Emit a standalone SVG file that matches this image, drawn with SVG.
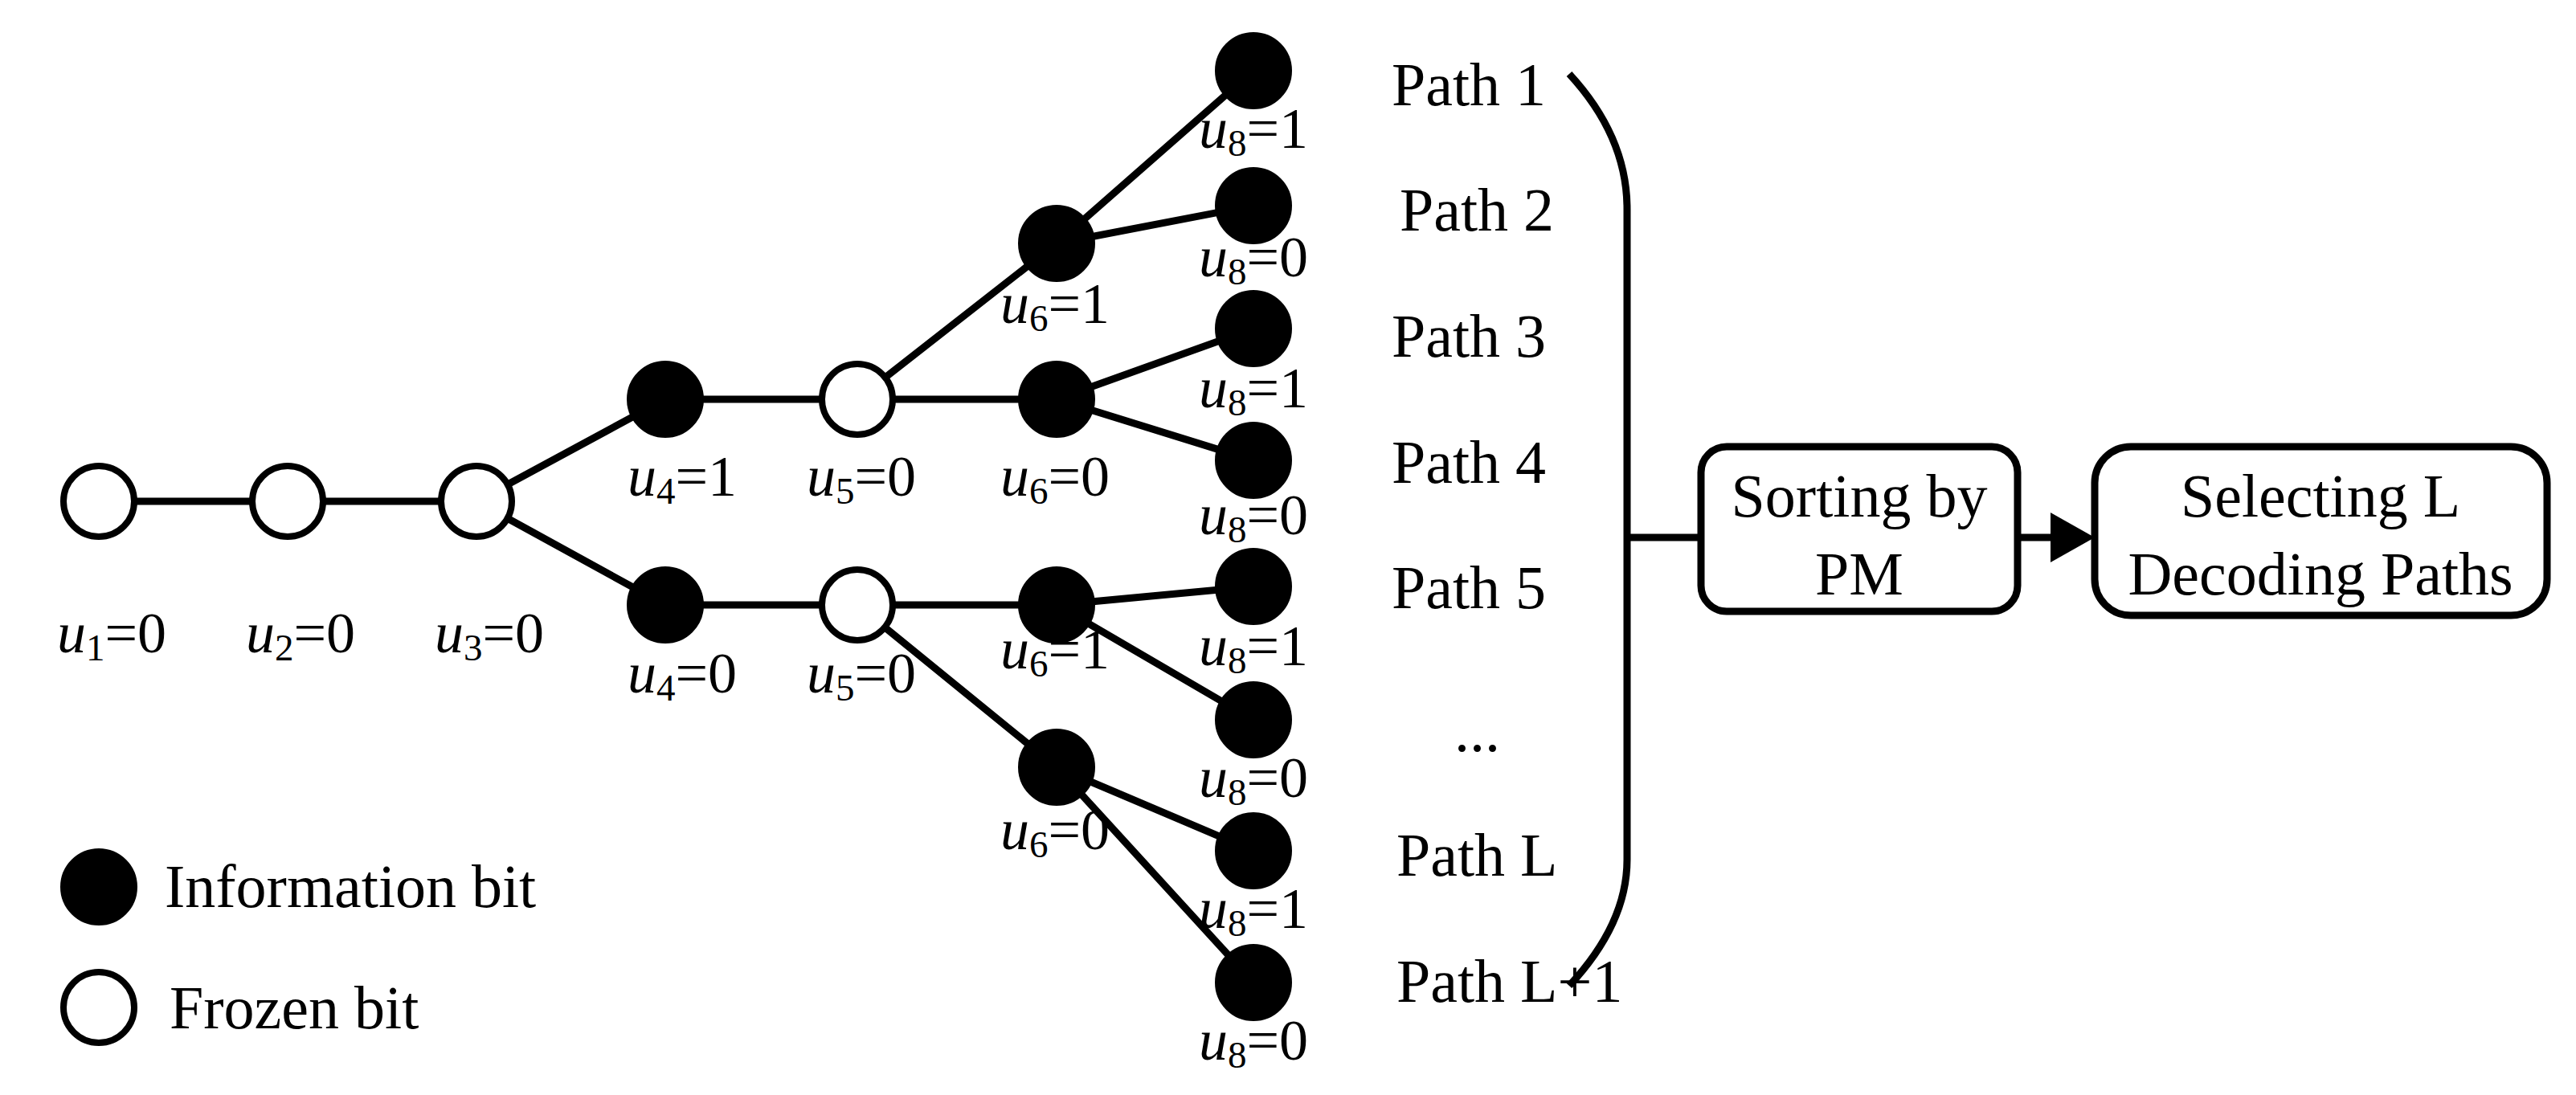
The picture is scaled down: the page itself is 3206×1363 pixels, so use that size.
<svg xmlns="http://www.w3.org/2000/svg" width="3206" height="1363" viewBox="0 0 3206 1363">
<style>
.e{stroke:#000;stroke-width:9;fill:none}
.i{fill:#000;stroke:#000;stroke-width:8}
.f{fill:#fff;stroke:#000;stroke-width:8}
text{font-family:"Liberation Serif","Times New Roman",serif;fill:#000}
.l{font-size:72px;text-anchor:middle}
.l tspan.v{font-style:italic}
.p{font-size:76px}
.b{font-size:76px;text-anchor:middle}
</style>
<defs><marker id="ar" markerWidth="10" markerHeight="10" refX="8" refY="5" orient="auto" markerUnits="userSpaceOnUse" viewBox="0 0 10 10"><path d="M0,0L10,5L0,10z" fill="#000"/></marker></defs>
<rect width="3206" height="1363" fill="#fff"/>
<g id="connectors">
<path class="e" d="M123,624H593M593,624L828,497M593,624L828,753M828,497H1315M1067,497L1315,303M1315,303L1560,88M1315,303L1560,256M1315,497L1560,409M1315,497L1560,573M828,753H1315M1067,753L1315,955M1315,753L1560,730M1315,753L1560,896M1315,955L1560,1059M1315,955L1560,1223"/>
<path class="e" d="M1953,92Q2025,170 2025,260V1070Q2025,1150 1953,1227M2025,669H2117"/>
<path class="e" d="M2511,669H2560" />
<path d="M2552,638L2607,669L2552,700z" fill="#000"/>
</g>
<g id="nodes">
<circle id="u1" class="f" cx="123" cy="624" r="44"/>
<circle id="u2" class="f" cx="358" cy="624" r="44"/>
<circle id="u3" class="f" cx="593" cy="624" r="44"/>
<circle id="u4a" class="i" cx="828" cy="497" r="44"/>
<circle id="u5a" class="f" cx="1067" cy="497" r="44"/>
<circle id="u6a" class="i" cx="1315" cy="497" r="44"/>
<circle id="u6b" class="i" cx="1315" cy="303" r="44"/>
<circle id="u4b" class="i" cx="828" cy="753" r="44"/>
<circle id="u5b" class="f" cx="1067" cy="753" r="44"/>
<circle id="u6c" class="i" cx="1315" cy="753" r="44"/>
<circle id="u6d" class="i" cx="1315" cy="955" r="44"/>
<circle id="u8a" class="i" cx="1560" cy="88" r="44"/>
<circle id="u8b" class="i" cx="1560" cy="256" r="44"/>
<circle id="u8c" class="i" cx="1560" cy="409" r="44"/>
<circle id="u8d" class="i" cx="1560" cy="573" r="44"/>
<circle id="u8e" class="i" cx="1560" cy="730" r="44"/>
<circle id="u8f" class="i" cx="1560" cy="896" r="44"/>
<circle id="u8g" class="i" cx="1560" cy="1059" r="44"/>
<circle id="u8h" class="i" cx="1560" cy="1223" r="44"/>
</g>
<g id="labels">
<text class="l" x="139" y="812"><tspan class="v">u</tspan><tspan font-size="47" dy="10">1</tspan><tspan dy="-10">=0</tspan></text>
<text class="l" x="374" y="812"><tspan class="v">u</tspan><tspan font-size="47" dy="10">2</tspan><tspan dy="-10">=0</tspan></text>
<text class="l" x="609" y="812"><tspan class="v">u</tspan><tspan font-size="47" dy="10">3</tspan><tspan dy="-10">=0</tspan></text>
<text class="l" x="849" y="617"><tspan class="v">u</tspan><tspan font-size="47" dy="10">4</tspan><tspan dy="-10">=1</tspan></text>
<text class="l" x="1072" y="617"><tspan class="v">u</tspan><tspan font-size="47" dy="10">5</tspan><tspan dy="-10">=0</tspan></text>
<text class="l" x="1313" y="617"><tspan class="v">u</tspan><tspan font-size="47" dy="10">6</tspan><tspan dy="-10">=0</tspan></text>
<text class="l" x="1313" y="402"><tspan class="v">u</tspan><tspan font-size="47" dy="10">6</tspan><tspan dy="-10">=1</tspan></text>
<text class="l" x="849" y="862"><tspan class="v">u</tspan><tspan font-size="47" dy="10">4</tspan><tspan dy="-10">=0</tspan></text>
<text class="l" x="1072" y="862"><tspan class="v">u</tspan><tspan font-size="47" dy="10">5</tspan><tspan dy="-10">=0</tspan></text>
<text class="l" x="1313" y="832"><tspan class="v">u</tspan><tspan font-size="47" dy="10">6</tspan><tspan dy="-10">=1</tspan></text>
<text class="l" x="1313" y="1057"><tspan class="v">u</tspan><tspan font-size="47" dy="10">6</tspan><tspan dy="-10">=0</tspan></text>
<text class="l" x="1560" y="184"><tspan class="v">u</tspan><tspan font-size="47" dy="10">8</tspan><tspan dy="-10">=1</tspan></text>
<text class="l" x="1560" y="344"><tspan class="v">u</tspan><tspan font-size="47" dy="10">8</tspan><tspan dy="-10">=0</tspan></text>
<text class="l" x="1560" y="507"><tspan class="v">u</tspan><tspan font-size="47" dy="10">8</tspan><tspan dy="-10">=1</tspan></text>
<text class="l" x="1560" y="665"><tspan class="v">u</tspan><tspan font-size="47" dy="10">8</tspan><tspan dy="-10">=0</tspan></text>
<text class="l" x="1560" y="828"><tspan class="v">u</tspan><tspan font-size="47" dy="10">8</tspan><tspan dy="-10">=1</tspan></text>
<text class="l" x="1560" y="992"><tspan class="v">u</tspan><tspan font-size="47" dy="10">8</tspan><tspan dy="-10">=0</tspan></text>
<text class="l" x="1560" y="1155"><tspan class="v">u</tspan><tspan font-size="47" dy="10">8</tspan><tspan dy="-10">=1</tspan></text>
<text class="l" x="1560" y="1319"><tspan class="v">u</tspan><tspan font-size="47" dy="10">8</tspan><tspan dy="-10">=0</tspan></text>
</g>
<g id="paths">
<text class="p" x="1732" y="131">Path 1</text>
<text class="p" x="1742" y="287">Path 2</text>
<text class="p" x="1732" y="444">Path 3</text>
<text class="p" x="1732" y="601">Path 4</text>
<text class="p" x="1732" y="757">Path 5</text>
<text class="p" x="1810" y="935">...</text>
<text class="p" x="1738" y="1090">Path L</text>
<text class="p" x="1738" y="1247">Path L+1</text>
</g>
<g id="sort">
<rect x="2117" y="556" width="394" height="205" rx="32" fill="#fff" stroke="#000" stroke-width="9"/>
<text class="b" x="2314" y="643">Sorting by</text>
<text class="b" x="2314" y="740">PM</text>
</g>
<g id="select">
<rect x="2607" y="556" width="563" height="210" rx="45" fill="#fff" stroke="#000" stroke-width="9"/>
<text class="b" x="2888" y="643">Selecting L</text>
<text class="b" x="2888" y="740">Decoding Paths</text>
</g>
<g id="legend">
<circle class="i" cx="123" cy="1104" r="44"/>
<text class="p" x="205" y="1129" font-size="78">Information bit</text>
<circle class="f" cx="123" cy="1254" r="44"/>
<text class="p" x="211" y="1280" font-size="78">Frozen bit</text>
</g>
</svg>
